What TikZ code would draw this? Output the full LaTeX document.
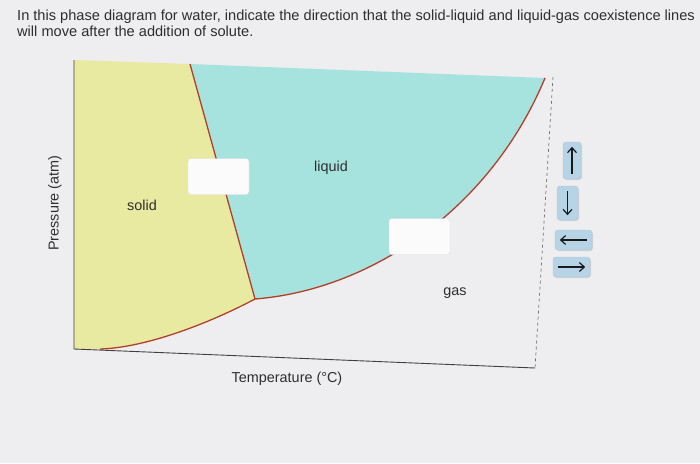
\documentclass[tikz,border=0pt]{standalone}
\usepackage{fontspec}
\setmainfont{Liberation Sans}
\usetikzlibrary{arrows.meta}
\usetikzlibrary{shadows}

\definecolor{solidcol}{HTML}{E9EAA2}
\definecolor{liquidcol}{HTML}{A7E3DE}
\definecolor{coexcol}{HTML}{B0402A}
\definecolor{buttoncol}{HTML}{B7D3E6}
\definecolor{bgcol}{HTML}{EEEDF0}
\definecolor{textcol}{HTML}{2E2E2E}

\tikzset{
    phase/.style={font=\fontsize{14.4}{16}\selectfont, text=textcol},
    coex/.style={draw=coexcol, line width=1.3pt},
    axis/.style={draw=black!75, line width=0.9pt},
    dropbox/.style={draw=gray!25, fill=white!97!gray, rounded corners=3pt,
        minimum width=61pt, minimum height=36pt},
    button/.style={fill=buttoncol, draw=buttoncol!85!gray, rounded corners=3pt,
        drop shadow={opacity=0.25, shadow xshift=1pt, shadow yshift=-1pt}},
    barb/.style={-{Straight Barb[length=5pt,width=9pt]}, line width=1.2pt, black!90},
}

\begin{document}
\begin{tikzpicture}[x=1pt,y=-1pt]
    \fill[bgcol] (0,0) rectangle (700,463);
    \useasboundingbox (0,0) rectangle (700,463);

    % Question
    \node[phase, anchor=north west, align=left, inner sep=0pt,
        font=\fontsize{14.6}{15.5}\selectfont] (question) at (17,10)
        {In this phase diagram for water, indicate the direction that the solid-liquid and liquid-gas coexistence lines\\
         will move after the addition of solute.};

    % Key points of the diagram
    \coordinate (triple) at (255,299);
    \coordinate (sltop) at (190,64);
    \coordinate (lgtop) at (545,78);
    \coordinate (sgend) at (100,349);
    \coordinate (origin) at (74,349);
    \coordinate (ptop) at (74,60);
    \coordinate (tend) at (535,368);

    % Regions
    \fill[solidcol] (ptop) -- (sltop) -- (triple)
        .. controls (200,328) and (140,348) .. (sgend) -- (origin) -- cycle;
    \fill[liquidcol] (sltop) -- (lgtop)
        .. controls (490,210) and (370,290) .. (triple) -- cycle;

    % Coexistence lines
    \draw[coex] (sltop) -- (triple);
    \draw[coex] (triple) .. controls (370,290) and (490,210) .. (lgtop);
    \draw[coex] (triple) .. controls (200,328) and (140,348) .. (sgend);

    % Axes
    \draw[axis] (ptop) -- (origin) -- (tend);
    \draw[black!55, dashed, line width=0.7pt] (553,77) -- (tend);

    \node[phase] (solid) at (142,205) {solid};
    \node[phase] (liquid) at (331,168) {liquid};
    \node[phase] (gas) at (455,293) {gas};
    \node[phase, rotate=90] (pressure) at (55,203) {Pressure (atm)};
    \node[phase] (temperature) at (287,379) {Temperature (°C)};

    % Answer boxes
    \node[dropbox] (slbox) at (218.5,176.5) {};
    \node[dropbox] (lgbox) at (419.5,236.5) {};

    % Arrow choices
    \node[button, minimum width=18pt, minimum height=37pt] (up) at (572,160.5) {};
    \node[button, minimum width=21pt, minimum height=34pt] (down) at (567.5,203) {};
    \node[button, minimum width=37pt, minimum height=20pt] (left) at (573.5,240) {};
    \node[button, minimum width=37pt, minimum height=20pt] (right) at (571.5,267) {};
    \draw[barb, shorten <=5pt, shorten >=5pt] (up.south) -- (up.north);
    \draw[barb, shorten <=5pt, shorten >=5pt] (down.north) -- (down.south);
    \draw[barb, shorten <=5pt, shorten >=5pt] (left.east) -- (left.west);
    \draw[barb, shorten <=5pt, shorten >=5pt] (right.west) -- (right.east);
\end{tikzpicture}
\end{document}
